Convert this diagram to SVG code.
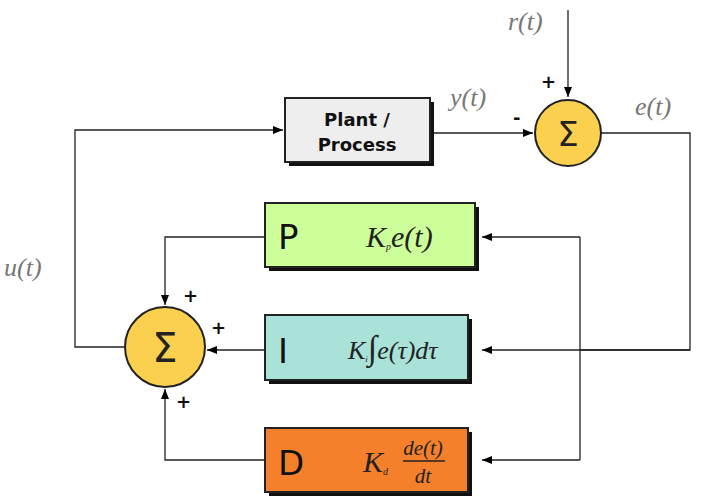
<svg xmlns="http://www.w3.org/2000/svg" width="719" height="503" viewBox="0 0 719 503">
<defs>
<marker id="ar" markerWidth="10" markerHeight="8" refX="10" refY="4" orient="auto" markerUnits="userSpaceOnUse"><path d="M0,0 L10,4 L0,8 Z" fill="#000"/></marker>
</defs>
<style>
.bx{stroke:#222;stroke-width:2}
.sh{fill:#111}
.ci{fill:#fcd04f;stroke:#222;stroke-width:2}
.ln{fill:none;stroke:#222;stroke-width:1.3;marker-end:url(#ar)}
.ln2{fill:none;stroke:#222;stroke-width:1.3}
.m{font-family:"Liberation Serif",serif;font-style:italic;fill:#777;font-size:26px}
.mb{font-family:"Liberation Serif",serif;font-style:italic;fill:#222}
.L{font-family:"DejaVu Sans",sans-serif;font-size:34px;fill:#111}
.pm{font-family:"DejaVu Sans",sans-serif;font-size:18px;fill:#111;font-weight:bold}
</style>
<rect width="719" height="503" fill="#fff"/>
<g id="connectors">
<path class="ln" d="M568,10 V97"/>
<path class="ln" d="M430,133 H533"/>
<path class="ln2" d="M601,133 H690 V350 H580"/>
<path class="ln" d="M690,350 H482"/>
<path class="ln2" d="M580,237 V460"/>
<path class="ln" d="M580,237 H482"/>
<path class="ln" d="M580,460 H482"/>
<path class="ln" d="M265,237 H165 V305"/>
<path class="ln" d="M265,350 H207"/>
<path class="ln" d="M265,460 H165 V389"/>
<path class="ln" d="M125,347 H75 V130 H283"/>
</g>
<g id="plant">
<rect class="sh" x="289" y="102" width="145" height="64"/>
<rect class="bx" x="285" y="98" width="145" height="64" fill="#eeeeee"/>
<text class="pm" x="357" y="126" text-anchor="middle" font-size="22">Plant /</text>
<text class="pm" x="357" y="151" text-anchor="middle" font-size="22">Process</text>
</g>
<g id="sum1">
<circle class="ci" cx="568" cy="133" r="33"/>
<text x="568" y="146" text-anchor="middle" font-family="DejaVu Sans,sans-serif" font-size="34" fill="#222">Σ</text>
</g>
<g id="sum2">
<circle class="ci" cx="165" cy="347" r="40"/>
<text x="165" y="362" text-anchor="middle" font-family="DejaVu Sans,sans-serif" font-size="40" fill="#222">Σ</text>
</g>
<g id="P">
<rect class="sh" x="269" y="207" width="210" height="64"/>
<rect class="bx" x="265" y="203" width="210" height="64" fill="#ccff99"/>
<text class="L" x="278" y="249">P</text>
<text class="mb" x="366" y="247" font-size="30">K<tspan font-size="10" dy="3">p</tspan><tspan dy="-3">e(t)</tspan></text>
</g>
<g id="I">
<rect class="sh" x="269" y="319" width="203" height="65"/>
<rect class="bx" x="265" y="315" width="203" height="65" fill="#a8e2d8"/>
<text class="L" x="278" y="363">I</text>
<text class="mb" x="348" y="359" font-size="26">K<tspan font-size="9" dy="3">i</tspan><tspan dy="-3" font-size="34" font-style="normal">∫</tspan><tspan font-size="26">e(τ)dτ</tspan></text>
</g>
<g id="D">
<rect class="sh" x="269" y="432" width="203" height="64"/>
<rect class="bx" x="265" y="428" width="203" height="64" fill="#f5802b"/>
<text class="L" x="278" y="475">D</text>
<text class="mb" x="363" y="472" font-size="30">K<tspan font-size="10" dy="3">d</tspan></text>
<text class="mb" x="423" y="455" font-size="21" text-anchor="middle">de(t)</text>
<line x1="403" y1="461" x2="445" y2="461" stroke="#222" stroke-width="1.3"/>
<text class="mb" x="423" y="483" font-size="21" text-anchor="middle">dt</text>
</g>
<g id="labels">
<text class="m" x="508" y="30">r(t)</text>
<text class="m" x="450" y="106">y(t)</text>
<text class="m" x="635" y="115">e(t)</text>
<text class="m" x="4" y="276">u(t)</text>
<text class="pm" x="541" y="88">+</text>
<text class="pm" x="513" y="124" font-size="22">-</text>
<text class="pm" x="183" y="302">+</text>
<text class="pm" x="211" y="334">+</text>
<text class="pm" x="176" y="408">+</text>
</g>
</svg>
